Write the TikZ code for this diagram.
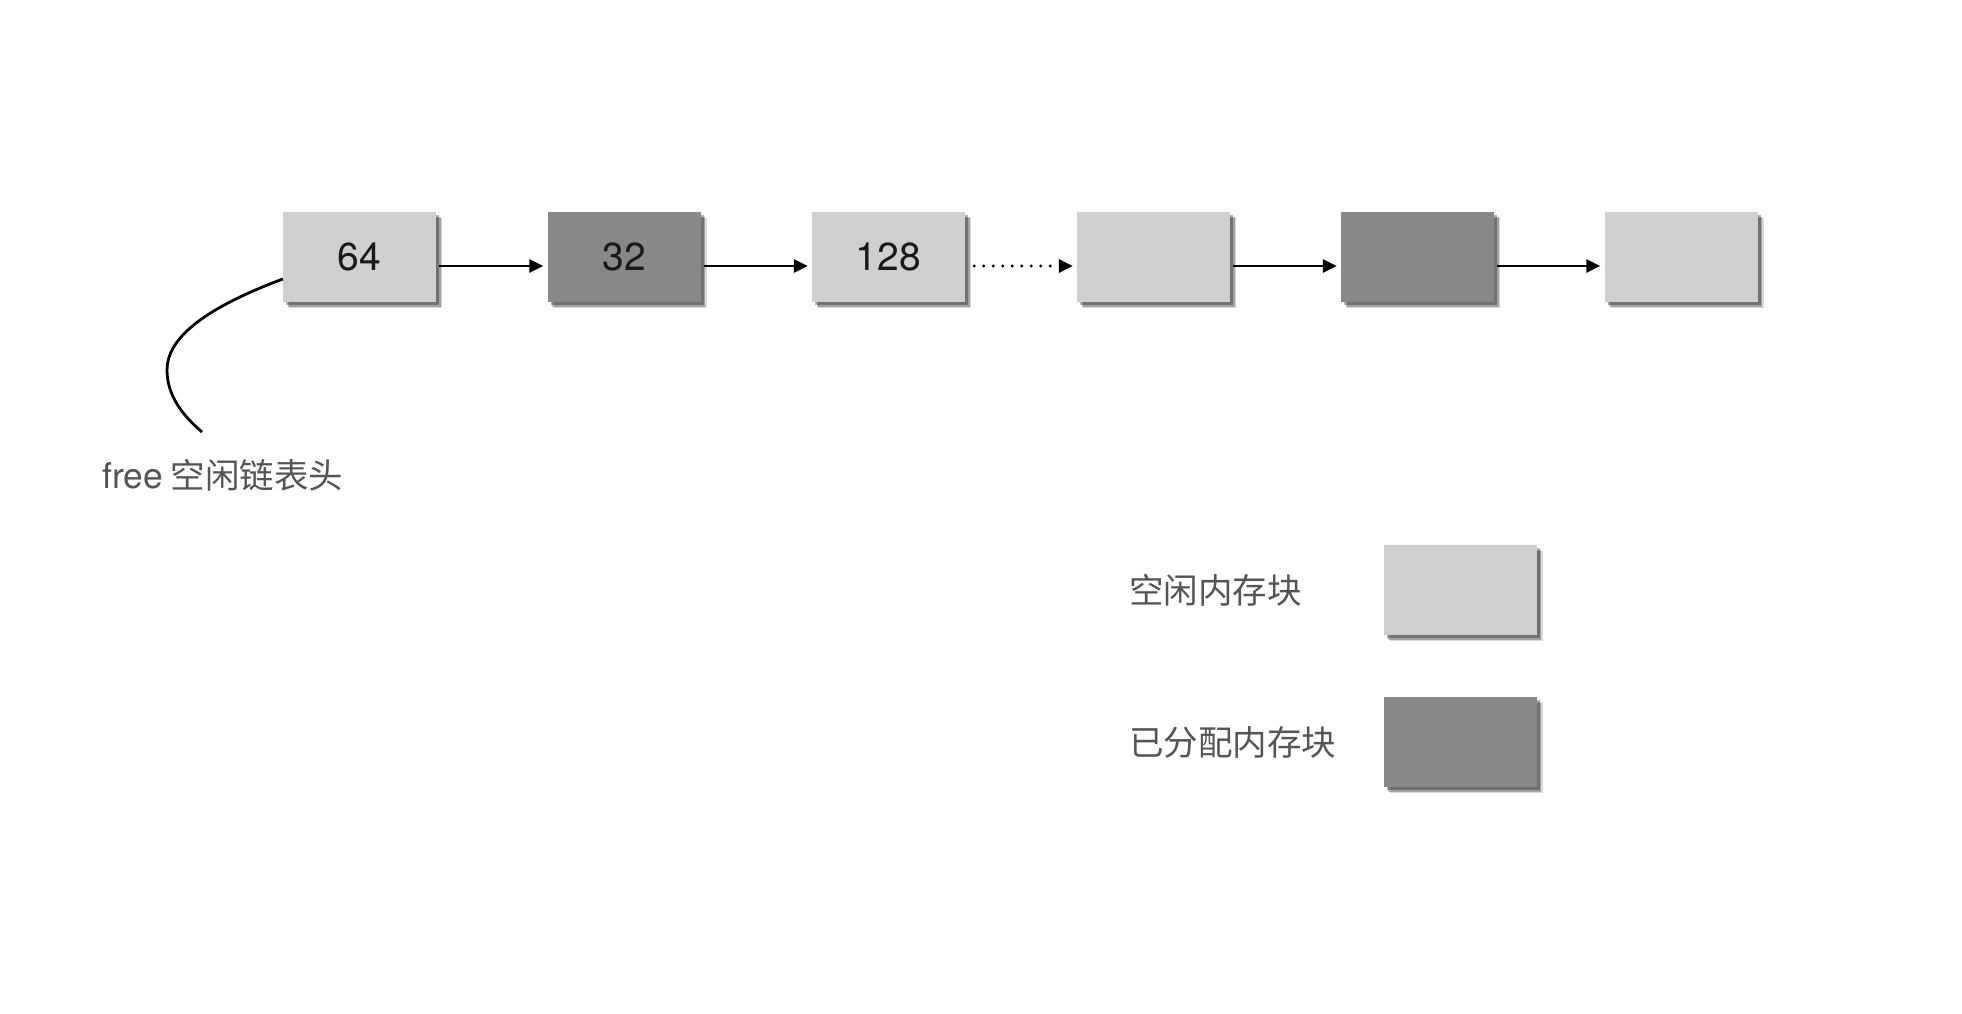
\documentclass[tikz,border=0pt]{standalone}
\usepackage{fontspec}
\setmainfont{TeX Gyre Heros}
\newfontfamily\cjk{Noto Sans CJK SC}
\usetikzlibrary{arrows.meta,shadows,calc}
\definecolor{freeclr}{HTML}{CFCFCF}
\definecolor{usedclr}{HTML}{888888}
\definecolor{txtgray}{HTML}{555555}
\tikzset{
  blk/.style={minimum width=153pt,minimum height=90pt,inner sep=0pt,draw=none,
    drop shadow={shadow xshift=6pt,shadow yshift=-6pt,opacity=0.15,fill=black},
    drop shadow={shadow xshift=4.5pt,shadow yshift=-4.5pt,opacity=0.25,fill=black},
    drop shadow={shadow xshift=3pt,shadow yshift=-3pt,opacity=0.3,fill=black},
    font=\fontsize{39}{41}\selectfont, text=black!90},
  freeblk/.style={blk,fill=freeclr},
  usedblk/.style={blk,fill=usedclr},
  link/.style={line width=2.8pt,-{Triangle[length=14pt,width=13pt]}},
  dotlink/.style={line width=3.2pt,dash pattern=on 0pt off 9.5pt,line cap=round,-{Triangle[length=14pt,width=13pt]}},
  lbl/.style={text=txtgray,inner sep=0pt,font=\cjk\fontsize{34.5}{36}\selectfont}
}
\begin{document}
\begin{tikzpicture}[x=1pt,y=-1pt]
\useasboundingbox[fill=white] (0,0) rectangle (1962,1014);
\node[freeblk] (b1) at (359.5,257) {64};
\node[usedblk] (b2) at (624,257) {32};
\node[freeblk] (b3) at (888.5,257) {128};
\node[freeblk] (b4) at (1153.5,257) {};
\node[usedblk] (b5) at (1417.5,257) {};
\node[freeblk] (b6) at (1681,257) {};
\draw[link] ($(b1.east)+(3,9)$) -- ($(b2.west)+(-4,9)$);
\draw[link] ($(b2.east)+(3,9)$) -- ($(b3.west)+(-4,9)$);
\draw[dotlink] ($(b3.east)+(9,9)$) -- ($(b4.west)+(-4,9)$);
\draw[link] ($(b4.east)+(3,9)$) -- ($(b5.west)+(-4,9)$);
\draw[link] ($(b5.east)+(3,9)$) -- ($(b6.west)+(-4,9)$);
\coordinate (fe) at (202,432);
\draw[line width=2.8pt] ($(b1.west)+(0,22)$) .. controls (200,310) and (167,340) .. (167,370) .. controls (167,395) and (182,415) .. (fe);
\node[lbl,anchor=base west] (freelbl) at (102,488) {{\rmfamily\fontsize{35.5}{36}\selectfont free} 空闲链表头};
\node[freeblk] (lg1) at (1460,590) {};
\node[usedblk] (lg2) at (1460,742) {};
\node[lbl,anchor=base west] (lt1) at (1129,603) {空闲内存块};
\node[lbl,anchor=base west] (lt2) at (1129,755) {已分配内存块};
\end{tikzpicture}
\end{document}
